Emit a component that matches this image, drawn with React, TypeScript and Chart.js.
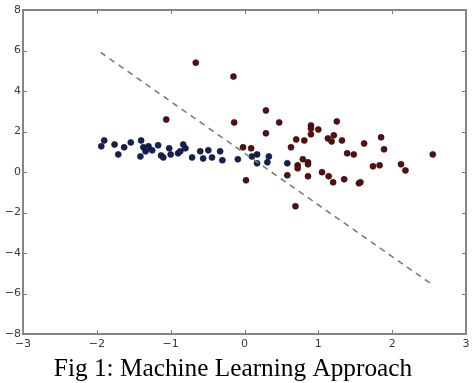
import React, { useEffect, useRef } from "react";
import { Chart, registerables } from "chart.js";

Chart.register(...registerables);

const blueX = [-1.90, -1.94, -1.76, -1.63, -1.71, -1.54, -1.40, -1.41, -1.37, -1.30, -1.25, -1.34, -1.32, -1.17, -1.13, -1.10, -1.02, -1.00, -0.90, -0.83, -0.80, -0.87, -0.71, -0.60, -0.49, -0.56, -0.44, -0.33, -0.30, -0.09, 0.10, 0.17, 0.17, 0.33, 0.31, 0.58];
const blueY = [1.56, 1.27, 1.36, 1.22, 0.87, 1.46, 1.56, 0.77, 1.22, 1.27, 1.07, 1.02, 1.17, 1.32, 0.82, 0.72, 1.17, 0.87, 0.92, 1.36, 1.17, 1.02, 0.72, 1.02, 1.07, 0.67, 0.72, 1.02, 0.58, 0.63, 0.77, 0.87, 0.43, 0.77, 0.48, 0.43];

const redX = [-0.66, -0.15, -1.06, -0.14, 0.29, 0.29, 0.47, -0.02, 0.09, 0.02, 0.63, 0.70, 0.81, 0.90, 0.90, 0.90, 1.00, 1.25, 1.21, 1.13, 1.18, 1.32, 1.39, 1.48, 1.62, 1.85, 1.89, 2.55, 1.74, 1.83, 2.12, 2.18, 0.79, 0.86, 0.86, 0.72, 0.72, 0.58, 0.86, 1.05, 1.14, 1.20, 1.35, 1.55, 1.57, 0.69];
const redY = [5.40, 4.71, 2.59, 2.45, 3.04, 1.91, 2.45, 1.22, 1.17, -0.41, 1.22, 1.61, 1.56, 2.30, 2.15, 1.86, 2.10, 2.50, 1.81, 1.66, 1.51, 1.56, 0.92, 0.87, 1.41, 1.71, 1.12, 0.87, 0.28, 0.33, 0.38, 0.08, 0.63, 0.48, 0.38, 0.33, 0.18, -0.16, -0.21, -0.01, -0.21, -0.51, -0.36, -0.56, -0.51, -1.69];

const boundaryX = [-1.95, 2.51];
const boundaryY = [5.91, -5.48];

const xTicks = [-3, -2, -1, 0, 1, 2, 3];
const yTicks = [-8, -6, -4, -2, 0, 2, 4, 6, 8];

const captionText = "Fig 1: Machine Learning Approach";

const fmt = (v: number) => (v < 0 ? "\u2212" + Math.abs(v) : String(v));

export default function App() {
  const ref = useRef<HTMLCanvasElement>(null);
  useEffect(() => {
    document.body.style.margin = "0";
    const framePlugin = {
      id: "frameTicks",
      afterDraw(chart: any) {
        const ctx = chart.ctx;
        const area = chart.chartArea;
        const sx = chart.scales.x;
        const sy = chart.scales.y;
        const left = area.left;
        const right = area.right;
        const top = area.top;
        const bottom = area.bottom;
        ctx.save();
        ctx.setLineDash([]);
        ctx.strokeStyle = "#7a7a7a";
        ctx.lineWidth = 1;
        const L = 4;
        ctx.beginPath();
        for (const t of xTicks) {
          const px = Math.round(sx.getPixelForValue(t)) + 0.5;
          ctx.moveTo(px, bottom);
          ctx.lineTo(px, bottom - L);
          ctx.moveTo(px, top);
          ctx.lineTo(px, top + L);
        }
        for (const t of yTicks) {
          const py = Math.round(sy.getPixelForValue(t)) + 0.5;
          ctx.moveTo(left, py);
          ctx.lineTo(left + L, py);
          ctx.moveTo(right, py);
          ctx.lineTo(right - L, py);
        }
        ctx.stroke();
        ctx.lineWidth = 2;
        ctx.strokeStyle = "#858585";
        ctx.strokeRect(left, top, right - left, bottom - top);
        ctx.restore();
      },
    };
    const blue = blueX.map((x, i) => ({ x, y: blueY[i] }));
    const red = redX.map((x, i) => ({ x, y: redY[i] }));
    const line = boundaryX.map((x, i) => ({ x, y: boundaryY[i] }));
    const chart = new Chart(ref.current as HTMLCanvasElement, {
      type: "scatter",
      data: {
        datasets: [
          {
            type: "line",
            data: line,
            borderColor: "#7d7d7d",
            borderWidth: 1.6,
            borderDash: [6, 5],
            pointRadius: 0,
            fill: false,
          } as any,
          {
            data: red,
            backgroundColor: "#5e0d0d",
            borderColor: "#111",
            borderWidth: 0.6,
            pointRadius: 3,
          },
          {
            data: blue,
            backgroundColor: "#14205e",
            borderColor: "#111",
            borderWidth: 0.6,
            pointRadius: 3,
          },
        ],
      },
      options: {
        responsive: false,
        animation: false,
        layout: { padding: { left: 0, right: 8, top: 10, bottom: 0 } },
        plugins: {
          legend: { display: false },
          tooltip: { enabled: false },
          title: {
            display: true,
            position: "bottom",
            text: captionText,
            color: "#000",
            font: { family: "Liberation Serif", size: 25.3, weight: "normal", lineHeight: 1 },
            padding: { top: 7, bottom: 0.7 },
          },
        },
        scales: {
          x: {
            type: "linear",
            min: -3,
            max: 3,
            afterBuildTicks: (s: any) => {
              s.ticks = xTicks.map((v) => ({ value: v }));
            },
            afterFit: (s: any) => {
              s.height = 16;
            },
            grid: { display: false, drawTicks: false },
            border: { display: false },
            ticks: {
              padding: 4,
              color: "#3a3a3a",
              font: { family: "DejaVu Sans", size: 11 },
              callback: (v: any) => fmt(Number(v)),
            },
          },
          y: {
            type: "linear",
            min: -8,
            max: 8,
            afterBuildTicks: (s: any) => {
              s.ticks = yTicks.map((v) => ({ value: v }));
            },
            afterFit: (s: any) => {
              s.width = 23;
            },
            grid: { display: false, drawTicks: false },
            border: { display: false },
            ticks: {
              padding: 2,
              color: "#3a3a3a",
              font: { family: "DejaVu Sans", size: 11 },
              callback: (v: any) => fmt(Number(v)),
            },
          },
        },
      },
      plugins: [framePlugin],
    });
    return () => chart.destroy();
  }, []);
  return (
    <div style={{ width: 474, height: 383 }}>
      <canvas ref={ref} width={474} height={383} />
    </div>
  );
}
